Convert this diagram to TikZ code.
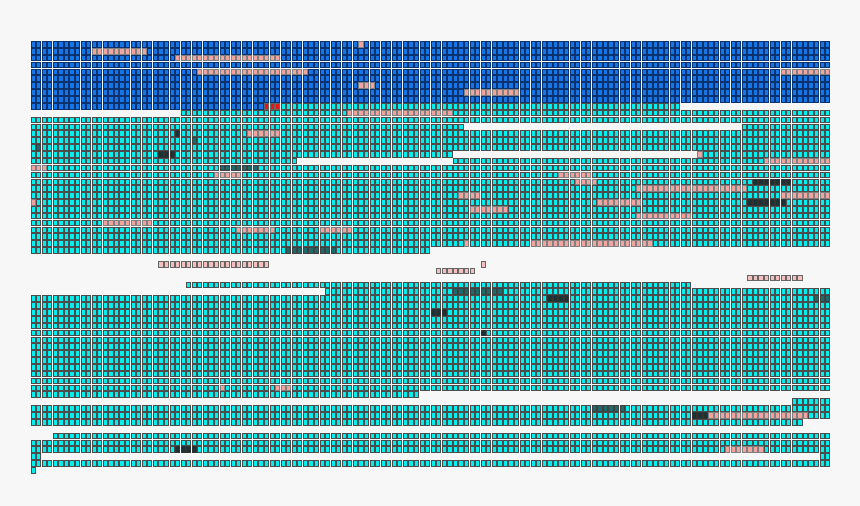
\documentclass[tikz,border=0pt]{standalone}
\definecolor{bgc}{RGB}{247,247,247}
\definecolor{cyc}{RGB}{0,240,240}
\definecolor{blc}{RGB}{22,118,232}
\definecolor{bld}{RGB}{10,50,110}
\definecolor{tlc}{RGB}{30,105,105}
\definecolor{dkc}{RGB}{28,50,52}
\definecolor{rdc}{RGB}{240,165,160}
\definecolor{brc}{RGB}{235,20,20}
\tikzset{
 cy/.style={fill=cyc,draw=black!70},
 bl/.style={fill=blc,draw=bld},
 tl/.style={fill=tlc,draw=black!75},
 dk/.style={fill=dkc,draw=black!80},
 rd/.style={fill=rdc,draw=black!50},
 pr/.style={fill=rdc!70!white,draw=black!60},
 br/.style={fill=brc,draw=black!60},
}
\newcommand\seg[4]{\foreach \c in {#2,...,#3}{\draw[#4,line width=0.4pt] ({30.8+5.556*\c},{41.3+6.87*#1}) rectangle ++(4.2,5.6);}}
\newcommand\full[2]{\seg{#1}{0}{143}{#2}}
\begin{document}
\begin{tikzpicture}[x=1pt,y=-1pt]
\fill[bgc] (0,0) rectangle (860,506);
\useasboundingbox (0,0) rectangle (860,506);
% blue block
\foreach \r in {0,...,8}{\full{\r}{bl}}
\seg{0}{59}{59}{rd}
\seg{1}{11}{20}{rd}
\seg{2}{26}{44}{rd}
\seg{4}{30}{49}{rd}\seg{4}{135}{143}{rd}
\seg{6}{59}{61}{rd}
\seg{7}{78}{87}{rd}
\seg{9}{0}{41}{bl}\seg{9}{42}{44}{br}\seg{9}{45}{116}{cy}
\seg{10}{27}{143}{cy}\seg{10}{57}{75}{rd}
\full{11}{cy}
\seg{12}{0}{77}{cy}\seg{12}{128}{143}{cy}
\full{13}{cy}\seg{13}{26}{26}{dk}\seg{13}{39}{44}{rd}
\full{14}{cy}\seg{14}{29}{29}{tl}
\full{15}{cy}\seg{15}{1}{1}{tl}
\seg{16}{0}{75}{cy}\seg{16}{120}{120}{rd}\seg{16}{121}{143}{cy}\seg{16}{23}{25}{dk}
\seg{17}{0}{47}{cy}\seg{17}{76}{143}{cy}\seg{17}{132}{143}{rd}
\full{18}{cy}\seg{18}{34}{40}{tl}\seg{18}{0}{2}{rd}
\full{19}{cy}\seg{19}{33}{37}{rd}\seg{19}{95}{100}{rd}
\full{20}{cy}\seg{20}{98}{101}{rd}\seg{20}{130}{136}{dk}
\full{21}{cy}\seg{21}{109}{128}{rd}
\full{22}{cy}\seg{22}{77}{80}{rd}\seg{22}{135}{143}{rd}
\full{23}{cy}\seg{23}{0}{0}{rd}\seg{23}{102}{109}{rd}\seg{23}{129}{135}{dk}
\full{24}{cy}\seg{24}{79}{85}{rd}
\full{25}{cy}\seg{25}{109}{118}{rd}
\full{26}{cy}\seg{26}{13}{21}{rd}
\full{27}{cy}\seg{27}{37}{43}{rd}\seg{27}{52}{57}{rd}
\full{28}{cy}
\full{29}{cy}\seg{29}{78}{78}{rd}\seg{29}{90}{111}{rd}
\seg{30}{0}{71}{cy}\seg{30}{46}{54}{tl}
\seg{32}{23}{42}{pr}\seg{32}{81}{81}{pr}
\seg{33}{73}{79}{pr}
\seg{34}{129}{138}{pr}
\seg{35}{28}{118}{cy}
\seg{36}{53}{143}{cy}\seg{36}{76}{84}{tl}
\full{37}{cy}\seg{37}{93}{96}{dk}\seg{37}{141}{143}{tl}
\full{38}{cy}
\full{39}{cy}\seg{39}{72}{74}{dk}
\foreach \r in {40,41,43,44,45,46,47,48,49}{\full{\r}{cy}}
\full{42}{cy}\seg{42}{81}{81}{dk}
\full{50}{cy}\seg{50}{34}{34}{rd}\seg{50}{44}{46}{rd}
\seg{51}{0}{69}{cy}
\seg{52}{137}{143}{cy}
\full{53}{cy}\seg{53}{101}{106}{tl}
\full{54}{cy}\seg{54}{119}{121}{dk}\seg{54}{122}{139}{rd}
\seg{55}{0}{138}{cy}
\seg{57}{4}{143}{cy}
\full{58}{cy}
\full{59}{cy}\seg{59}{26}{29}{dk}\seg{59}{125}{131}{rd}
\seg{60}{0}{1}{cy}\seg{60}{142}{143}{cy}
\full{61}{cy}
\seg{62}{0}{0}{cy}
\end{tikzpicture}
\end{document}
